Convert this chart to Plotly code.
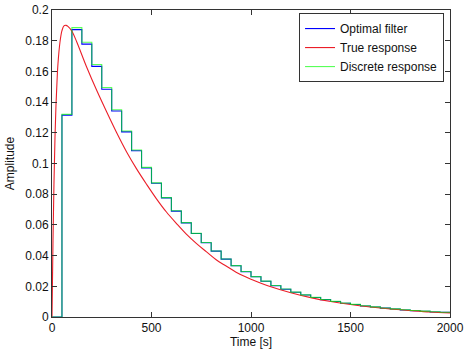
import plotly.graph_objects as go

# True response (continuous) samples
true_t = [0, 5, 10, 15, 20, 25, 30, 40, 50, 60, 70, 80, 100, 125, 175, 225, 275, 325, 375, 425,
          475, 525, 575, 625, 675, 725, 775, 825, 875, 925, 975, 1025, 1100, 1200, 1300, 1400,
          1500, 1600, 1700, 1800, 1900, 2000]
true_amp = [0, 0.05, 0.088, 0.117, 0.138, 0.153, 0.165, 0.179, 0.1865, 0.1897, 0.19, 0.1893,
            0.1862, 0.179, 0.1625, 0.1475, 0.1335, 0.12, 0.1075, 0.0965, 0.0865, 0.077, 0.0684,
            0.061, 0.054, 0.048, 0.0426, 0.0373, 0.0332, 0.0292, 0.026, 0.0233, 0.0197, 0.0158,
            0.0126, 0.0101, 0.0081, 0.0065, 0.0052, 0.0042, 0.0033, 0.0027]

# Step start times (sample period 50 s)
step_t = [0, 50, 100, 150, 200, 250, 300, 350, 400, 450, 500, 550, 600, 650, 700, 750, 800, 850,
          900, 950, 1000, 1050, 1100, 1150, 1200, 1250, 1300, 1350, 1400, 1450, 1500, 1550, 1600,
          1650, 1700, 1750, 1800, 1850, 1900, 1950, 2000]

discrete_amp = [0, 0.132, 0.1885, 0.179, 0.1645, 0.1495, 0.135, 0.1212, 0.1088, 0.0975, 0.0874,
                0.0778, 0.0692, 0.0615, 0.0545, 0.0485, 0.043, 0.0378, 0.0335, 0.0296, 0.0263,
                0.0234, 0.0205, 0.0182, 0.0162, 0.0144, 0.0128, 0.0114, 0.0102, 0.0091, 0.0082,
                0.0073, 0.0066, 0.0059, 0.0053, 0.0047, 0.0042, 0.0038, 0.0034, 0.0031, 0.0031]

optimal_amp = [0, 0.1315, 0.1872, 0.1778, 0.1633, 0.1484, 0.1342, 0.1206, 0.1083, 0.0971, 0.0871,
               0.0776, 0.069, 0.0613, 0.0544, 0.0484, 0.0429, 0.0377, 0.0334, 0.0295, 0.0262,
               0.0233, 0.0204, 0.0181, 0.0161, 0.0143, 0.0127, 0.0113, 0.0101, 0.009, 0.0081,
               0.0072, 0.0065, 0.0058, 0.0052, 0.0046, 0.0041, 0.0037, 0.0033, 0.003, 0.003]

x_ticks = [0, 500, 1000, 1500, 2000]
y_ticks = [0, 0.02, 0.04, 0.06, 0.08, 0.1, 0.12, 0.14, 0.16, 0.18, 0.2]
y_tick_text = ["0", "0.02", "0.04", "0.06", "0.08", "0.1", "0.12", "0.14", "0.16", "0.18", "0.2"]

FONT = "Liberation Sans, Arial"

fig = go.Figure()
fig.add_trace(go.Scatter(x=step_t, y=optimal_amp, mode="lines", line_shape="hv",
                         name="Optimal filter", line=dict(color="rgb(0,0,255)", width=1.1)))
fig.add_trace(go.Scatter(x=true_t, y=true_amp, mode="lines", line_shape="spline",
                         name="True response", line=dict(color="rgb(235,30,40)", width=1.1)))
fig.add_trace(go.Scatter(x=step_t, y=discrete_amp, mode="lines", line_shape="hv",
                         name="Discrete response", opacity=0.65,
                         line=dict(color="rgb(0,255,0)", width=1.1)))

axis_common = dict(showgrid=False, zeroline=False, showline=True, linecolor="#333",
                   linewidth=1, mirror="ticks", ticks="inside", ticklen=5, tickcolor="#333",
                   automargin=False,
                   tickfont=dict(family=FONT, size=12, color="#111"))

fig.update_xaxes(range=[0, 2000], tickvals=x_ticks, title=dict(text="Time [s]", standoff=3,
                 font=dict(family=FONT, size=12, color="#111")), **axis_common)
fig.update_yaxes(range=[0, 0.2], tickvals=y_ticks, ticktext=y_tick_text,
                 title=dict(text="Amplitude", standoff=8,
                            font=dict(family=FONT, size=12, color="#111")),
                 **axis_common)

fig.update_layout(
    width=474, height=355,
    margin=dict(l=52, r=24, t=10, b=38),
    paper_bgcolor="white", plot_bgcolor="white",
    legend=dict(x=0.985, y=0.99, xanchor="right", yanchor="top",
                bgcolor="white", bordercolor="#333", borderwidth=1,
                font=dict(family=FONT, size=12, color="#111"),
                tracegroupgap=0, itemwidth=30),
    showlegend=True,
)

fig.write_html("out.html", config={"displayModeBar": False},
               post_script="document.body.style.margin='0';document.body.style.padding='0';")
